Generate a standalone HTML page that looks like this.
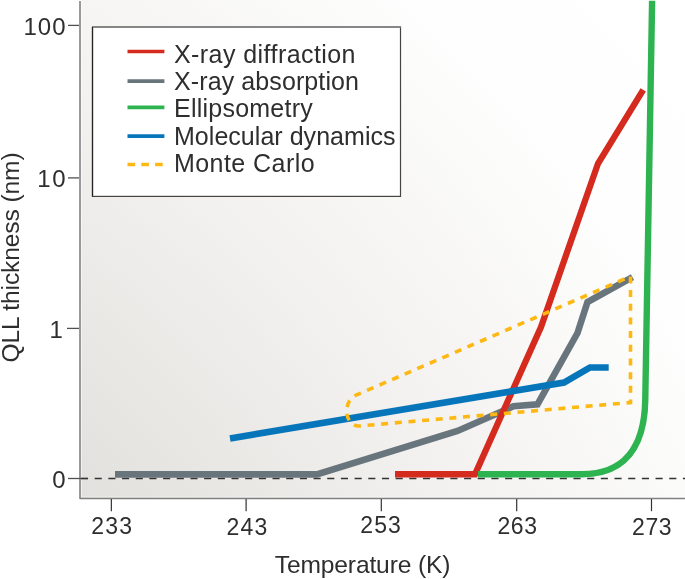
<!DOCTYPE html>
<html><head><meta charset="utf-8"><title>QLL thickness vs temperature</title>
<style>
html,body{margin:0;padding:0;background:#fff;}
body{width:685px;height:579px;overflow:hidden;}
svg{display:block;}
text{font-family:"Liberation Sans",Arial,sans-serif;fill:#2e2e2e;}
</style></head>
<body>
<svg width="685" height="579" viewBox="0 0 685 579">
<defs>
<radialGradient id="bg" gradientUnits="userSpaceOnUse" cx="-430" cy="957" r="1469">
<stop offset="0.46" stop-color="#e1e0dc"/>
<stop offset="0.57" stop-color="#eae9e6"/>
<stop offset="0.685" stop-color="#f3f2f0"/>
<stop offset="0.735" stop-color="#f6f5f3"/>
<stop offset="0.82" stop-color="#fbfbfa"/>
<stop offset="0.87" stop-color="#fefefe"/>
<stop offset="1" stop-color="#ffffff"/>
</radialGradient>
</defs>
<rect x="0" y="0" width="685" height="579" fill="#fff"/>
<!-- plot area -->
<rect x="81" y="0" width="604" height="498" fill="url(#bg)"/>

<!-- axes -->
<line x1="81.5" y1="1" x2="81.5" y2="497" stroke="#fff" stroke-opacity="0.5" stroke-width="1"/>
<line x1="81" y1="497" x2="685" y2="497" stroke="#fff" stroke-opacity="0.45" stroke-width="1"/>
<line x1="80" y1="1" x2="80" y2="499" stroke="#999" stroke-width="2"/>
<line x1="80" y1="498.5" x2="685" y2="498.5" stroke="#808080" stroke-width="1.5"/>

<!-- y ticks -->
<g stroke="#505050" stroke-width="1.3">
<line x1="68" y1="25.4" x2="79" y2="25.4"/>
<line x1="68" y1="177.9" x2="79" y2="177.9"/>
<line x1="67" y1="328.4" x2="79" y2="328.4"/>
<line x1="68" y1="478.5" x2="88" y2="478.5"/>
</g>
<!-- x ticks -->
<g stroke="#333" stroke-width="1.2">
<line x1="111.35" y1="499" x2="111.35" y2="511.2"/>
<line x1="246.1" y1="499" x2="246.1" y2="511.2"/>
<line x1="381.3" y1="499" x2="381.3" y2="511.2"/>
<line x1="516.7" y1="499" x2="516.7" y2="511.2"/>
<line x1="651.5" y1="499" x2="651.5" y2="511.2"/>
</g>
<!-- y tick labels -->
<g font-size="24" text-anchor="end">
<text x="65.5" y="35.1" textLength="42" lengthAdjust="spacing">100</text>
<text x="65.5" y="187.4" textLength="28.3" lengthAdjust="spacing">10</text>
<text x="62.9" y="338.1">1</text>
<text x="65.5" y="488.4">0</text>
</g>
<!-- x tick labels -->
<g font-size="23" text-anchor="middle">
<text x="111.6" y="534.4" textLength="40.8" lengthAdjust="spacing">233</text>
<text x="246.8" y="534.6" textLength="40.8" lengthAdjust="spacing">243</text>
<text x="380.6" y="533.4" textLength="40.6" lengthAdjust="spacing">253</text>
<text x="517.2" y="533.9" textLength="39.5" lengthAdjust="spacing">263</text>
<text x="651.8" y="535.4" textLength="39.5" lengthAdjust="spacing">273</text>
</g>
<text x="362.6" y="572.7" font-size="24.6" text-anchor="middle" textLength="175.6" lengthAdjust="spacing">Temperature (K)</text>
<text transform="translate(19.4,257.5) rotate(-90)" font-size="24.6" text-anchor="middle" textLength="210.2" lengthAdjust="spacing">QLL thickness (nm)</text>

<!-- legend -->
<rect x="92.5" y="27" width="308" height="169.4" fill="#fff" stroke="#444" stroke-width="1.2"/>
<line x1="92" y1="27.1" x2="401" y2="27.1" stroke="#858585" stroke-width="1.5"/>
<line x1="92.5" y1="27" x2="92.5" y2="196.5" stroke="#222" stroke-width="1.2"/>
<g stroke-width="3.6">
<line x1="127.5" y1="51.5" x2="164.4" y2="51.5" stroke="#d52b1e"/>
<line x1="127.5" y1="81.1" x2="164.4" y2="81.1" stroke="#69757d"/>
<line x1="127.5" y1="107.4" x2="164.4" y2="107.4" stroke="#2db350"/>
<line x1="127.5" y1="136.1" x2="164.4" y2="136.1" stroke="#0675ba"/>
<line x1="127.5" y1="164.5" x2="164.4" y2="164.5" stroke="#fdb813" stroke-dasharray="7.6 6.2"/>
</g>
<g font-size="25">
<text x="174" y="62.6" textLength="181.5" lengthAdjust="spacing">X-ray diffraction</text>
<text x="174" y="90.1" textLength="185" lengthAdjust="spacing">X-ray absorption</text>
<text x="174" y="117" textLength="138.7" lengthAdjust="spacing">Ellipsometry</text>
<text x="174" y="145" textLength="221.5" lengthAdjust="spacing">Molecular dynamics</text>
<text x="174" y="171.7" textLength="140.6" lengthAdjust="spacing">Monte Carlo</text>
</g>

<!-- curves -->
<g fill="none" stroke-linejoin="miter" stroke-linecap="butt">
<line x1="81" y1="478.5" x2="685" y2="478.5" stroke="#333" stroke-width="1.4" stroke-dasharray="7.1 6.58"/>
<polyline points="115,474.4 316.8,474.4 457.5,430.9 513.5,406.3 537.5,404.4 577.5,333 587.5,302 632.5,277.2" stroke="#69757d" stroke-width="6.6"/>
<polyline points="395,474.25 475,474.25 541,327 598,163.5 643.2,89.8" stroke="#d52b1e" stroke-width="6.3"/>
<path d="M652.1,0.8 L645.26,400 C643.93,477 591.4,474.25 580,474.25 L478,474.25" stroke="#2db350" stroke-width="6.4"/>
<polyline points="230,438.4 564,382.6 590,367.5 608.7,367.5" stroke="#0675ba" stroke-width="6.6"/>
<path d="M630.5,276.4 L630.5,402.5 L360,425.93 C344.45,427.26 342,401.2 356,395.2 Z" stroke="#fdb813" stroke-width="3.6" stroke-dasharray="7 6.68"/>
</g>
</svg>
</body></html>
